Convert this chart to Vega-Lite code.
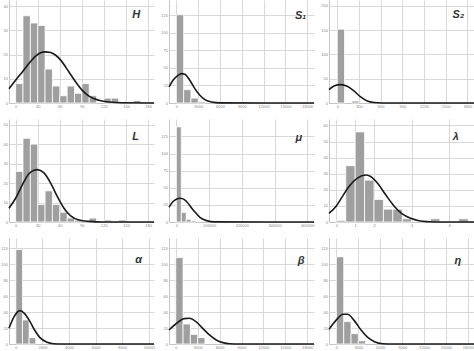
{
"$schema": "https://vega.github.io/schema/vega-lite/v6.json",
"padding": 0,
"background": "white",
"columns": 3,
"spacing": {"row": 16, "column": 15},
"bounds": "flush",
"config": {
 "view": {"stroke": null},
 "axis": {"tickCount": 20, "format": "d", "labelFontSize": 4, "labelColor": "#888", "gridColor": "#d8d8d8", "gridWidth": 1, "domainColor": "#c4c4c4", "domainWidth": 1, "ticks": false, "labelPadding": 1.5, "labelOverlap": false, "labelFlush": false, "labelFont": "Liberation Sans"},
 "axisX": {"minExtent": 7, "maxExtent": 7},
 "axisY": {"minExtent": 7, "maxExtent": 7},
 "rect": {"fill": "#9f9f9f", "stroke": "#ffffff", "strokeWidth": 0.8},
 "line": {"color": "#1a1a1a", "strokeWidth": 1.6, "interpolate": "monotone", "clip": true},
 "text": {"font": "Liberation Sans", "fontSize": 11, "fontStyle": "italic", "fontWeight": "bold", "color": "#333"}
},
"datasets": {
 "h_b": [{"x0":0,"x1":10,"n":8},{"x0":10,"x1":20,"n":36},{"x0":20,"x1":30,"n":33},{"x0":30,"x1":40,"n":32},{"x0":40,"x1":50,"n":14},{"x0":50,"x1":60,"n":7},{"x0":60,"x1":70,"n":3},{"x0":70,"x1":80,"n":7},{"x0":80,"x1":90,"n":4},{"x0":90,"x1":100,"n":8},{"x0":100,"x1":110,"n":3},{"x0":120,"x1":130,"n":2},{"x0":130,"x1":140,"n":2},{"x0":160,"x1":170,"n":1}],
 "h_c": [{"x":-9,"y":5.9},{"x":0,"y":9.4},{"x":9.1,"y":12.8},{"x":18.1,"y":16.3},{"x":27.2,"y":19.3},{"x":34,"y":20.7},{"x":39.9,"y":21.1},{"x":47.6,"y":20.8},{"x":54.4,"y":19.7},{"x":61.2,"y":17.7},{"x":72.5,"y":12.8},{"x":81.6,"y":8.7},{"x":90.6,"y":5.2},{"x":99.7,"y":2.8},{"x":113.3,"y":1.1},{"x":126.9,"y":0.4},{"x":145,"y":0.1},{"x":188,"y":0}],
 "s1_b": [{"x0":0,"x1":1000,"n":126},{"x0":1000,"x1":2000,"n":19},{"x0":2000,"x1":3000,"n":7},{"x0":3000,"x1":4000,"n":2}],
 "s1_c": [{"x":-1015,"y":22.9},{"x":-462,"y":32.4},{"x":231,"y":39.5},{"x":692,"y":41.9},{"x":1154,"y":41},{"x":1846,"y":32.4},{"x":2538,"y":20.5},{"x":3231,"y":11},{"x":3923,"y":4.8},{"x":4846,"y":1.4},{"x":6000,"y":0.2},{"x":18923,"y":0}],
 "s2_b": [{"x0":0,"x1":100,"n":152},{"x0":200,"x1":300,"n":4}],
 "s2_c": [{"x":-115,"y":27.6},{"x":-46,"y":35.2},{"x":46,"y":37.9},{"x":138,"y":34.5},{"x":231,"y":24.8},{"x":323,"y":12.4},{"x":415,"y":4.1},{"x":508,"y":1},{"x":623,"y":0},{"x":1892,"y":0}],
 "l_b": [{"x0":0,"x1":10,"n":26},{"x0":10,"x1":20,"n":43},{"x0":20,"x1":30,"n":40},{"x0":30,"x1":40,"n":9},{"x0":40,"x1":50,"n":16},{"x0":50,"x1":60,"n":9},{"x0":60,"x1":70,"n":5},{"x0":70,"x1":80,"n":2},{"x0":80,"x1":90,"n":1},{"x0":100,"x1":110,"n":2},{"x0":120,"x1":130,"n":1},{"x0":140,"x1":150,"n":1}],
 "l_c": [{"x":-9,"y":7.1},{"x":0,"y":12.2},{"x":9.1,"y":19.1},{"x":18.1,"y":24.8},{"x":24.9,"y":26.6},{"x":29.5,"y":26.9},{"x":38.5,"y":25.2},{"x":47.6,"y":20},{"x":56.6,"y":13.1},{"x":65.7,"y":7.1},{"x":74.8,"y":3.1},{"x":86.1,"y":1},{"x":99.7,"y":0.3},{"x":117.8,"y":0},{"x":188,"y":0}],
 "mu_b": [{"x0":0,"x1":15000,"n":139},{"x0":15000,"x1":30000,"n":14},{"x0":30000,"x1":45000,"n":4},{"x0":45000,"x1":60000,"n":2},{"x0":120000,"x1":135000,"n":2}],
 "mu_c": [{"x":-22600,"y":21.6},{"x":-10300,"y":29.9},{"x":0,"y":33.3},{"x":10300,"y":34.8},{"x":20500,"y":33.8},{"x":30800,"y":29.9},{"x":51300,"y":17.6},{"x":71800,"y":6.9},{"x":92300,"y":2},{"x":118000,"y":0.2},{"x":420500,"y":0}],
 "la_b": [{"x0":0,"x1":0.5,"n":1},{"x0":0.5,"x1":1,"n":35},{"x0":1,"x1":1.5,"n":56},{"x0":1.5,"x1":2,"n":26},{"x0":2,"x1":2.5,"n":14},{"x0":2.5,"x1":3,"n":8},{"x0":3,"x1":3.5,"n":8},{"x0":3.5,"x1":4,"n":2},{"x0":5,"x1":5.5,"n":2},{"x0":6.5,"x1":7,"n":2}],
 "la_c": [{"x":-0.39,"y":5.4},{"x":0,"y":10},{"x":0.32,"y":15.8},{"x":0.67,"y":22.1},{"x":1.12,"y":27.3},{"x":1.56,"y":29.2},{"x":1.82,"y":28.3},{"x":2.18,"y":24.2},{"x":2.62,"y":16.9},{"x":3.06,"y":10},{"x":3.5,"y":5},{"x":3.95,"y":2.3},{"x":4.39,"y":0.8},{"x":4.92,"y":0.2},{"x":5.45,"y":0},{"x":7.31,"y":0}],
 "a_b": [{"x0":0,"x1":500,"n":118},{"x0":500,"x1":1000,"n":30},{"x0":1000,"x1":1500,"n":8}],
 "a_c": [{"x":-513,"y":19.6},{"x":-128,"y":34.2},{"x":308,"y":41.7},{"x":641,"y":38.3},{"x":1026,"y":29.2},{"x":1410,"y":17.5},{"x":1795,"y":8.3},{"x":2308,"y":2.5},{"x":2821,"y":0.4},{"x":3590,"y":0},{"x":10385,"y":0}],
 "b_b": [{"x0":0,"x1":1000,"n":108},{"x0":1000,"x1":2000,"n":25},{"x0":2000,"x1":3000,"n":12},{"x0":3000,"x1":4000,"n":8}],
 "b_c": [{"x":-923,"y":17.5},{"x":0,"y":25},{"x":1154,"y":31.7},{"x":1846,"y":32.1},{"x":2769,"y":27.9},{"x":3692,"y":19.6},{"x":4615,"y":11.3},{"x":5538,"y":5},{"x":6462,"y":1.7},{"x":7385,"y":0.4},{"x":8769,"y":0},{"x":18923,"y":0}],
 "e_b": [{"x0":0,"x1":1000,"n":109},{"x0":1000,"x1":2000,"n":28},{"x0":2000,"x1":3000,"n":13},{"x0":3000,"x1":4000,"n":4}],
 "e_c": [{"x":-1015,"y":18.3},{"x":-92,"y":29.2},{"x":923,"y":37.1},{"x":1523,"y":37.1},{"x":2446,"y":29.2},{"x":3369,"y":17.5},{"x":4292,"y":8.3},{"x":5215,"y":2.9},{"x":6369,"y":0.4},{"x":7754,"y":0},{"x":18830,"y":0}]
},
"concat": [
  {"width": 145, "height": 103, "layer": [
   {"data": {"name": "h_b"}, "mark": "rect", "encoding": {
     "x": {"field": "x0", "type": "quantitative", "title": null, "scale": {"domain": [-9, 188], "nice": false, "zero": false}, "axis": {"values": [0,30,60,90,120,150,180], "tickCount": 20}},
     "x2": {"field": "x1"},
     "y": {"field": "n", "type": "quantitative", "title": null, "scale": {"domain": [0, 42.5], "nice": false}, "axis": {"values": [0,10,20,30,40], "tickCount": 20}},
     "y2": {"datum": 0}}},
   {"data": {"name": "h_c"}, "mark": "line", "encoding": {"x": {"field": "x", "type": "quantitative"}, "y": {"field": "y", "type": "quantitative"}}},
   {"data": {"values": [{"label": "H"}]}, "mark": "text", "encoding": {"x": {"datum": 164}, "y": {"datum": 36.3}, "text": {"field": "label"}}}
  ]},
  {"width": 145, "height": 103, "layer": [
   {"data": {"name": "s1_b"}, "mark": "rect", "encoding": {
     "x": {"field": "x0", "type": "quantitative", "title": null, "scale": {"domain": [-1015, 18923], "nice": false, "zero": false}, "axis": {"values": [0,3000,6000,9000,12000,15000,18000], "tickCount": 20}},
     "x2": {"field": "x1"},
     "y": {"field": "n", "type": "quantitative", "title": null, "scale": {"domain": [0, 147], "nice": false}, "axis": {"values": [0,25,50,75,100,125], "tickCount": 20}},
     "y2": {"datum": 0}}},
   {"data": {"name": "s1_c"}, "mark": "line", "encoding": {"x": {"field": "x", "type": "quantitative"}, "y": {"field": "y", "type": "quantitative"}}},
   {"data": {"values": [{"label": "S₁"}]}, "mark": "text", "encoding": {"x": {"datum": 17077}, "y": {"datum": 123.8}, "text": {"field": "label"}}}
  ]},
  {"width": 145, "height": 103, "layer": [
   {"data": {"name": "s2_b"}, "mark": "rect", "encoding": {
     "x": {"field": "x0", "type": "quantitative", "title": null, "scale": {"domain": [-115, 1892], "nice": false, "zero": false}, "axis": {"values": [0,300,600,900,1200,1500,1800], "tickCount": 20}},
     "x2": {"field": "x1"},
     "y": {"field": "n", "type": "quantitative", "title": null, "scale": {"domain": [0, 212], "nice": false}, "axis": {"values": [0,50,100,150,200], "tickCount": 20}},
     "y2": {"datum": 0}}},
   {"data": {"name": "s2_c"}, "mark": "line", "encoding": {"x": {"field": "x", "type": "quantitative"}, "y": {"field": "y", "type": "quantitative"}}},
   {"data": {"values": [{"label": "S₂"}]}, "mark": "text", "encoding": {"x": {"datum": 1675}, "y": {"datum": 181}, "text": {"field": "label"}}}
  ]},
  {"width": 145, "height": 103, "layer": [
   {"data": {"name": "l_b"}, "mark": "rect", "encoding": {
     "x": {"field": "x0", "type": "quantitative", "title": null, "scale": {"domain": [-9, 188], "nice": false, "zero": false}, "axis": {"values": [0,30,60,90,120,150,180], "tickCount": 20}},
     "x2": {"field": "x1"},
     "y": {"field": "n", "type": "quantitative", "title": null, "scale": {"domain": [0, 52.9], "nice": false}, "axis": {"values": [0,10,20,30,40,50], "tickCount": 20}},
     "y2": {"datum": 0}}},
   {"data": {"name": "l_c"}, "mark": "line", "encoding": {"x": {"field": "x", "type": "quantitative"}, "y": {"field": "y", "type": "quantitative"}}},
   {"data": {"values": [{"label": "L"}]}, "mark": "text", "encoding": {"x": {"datum": 163}, "y": {"datum": 43.8}, "text": {"field": "label"}}}
  ]},
  {"width": 145, "height": 103, "layer": [
   {"data": {"name": "mu_b"}, "mark": "rect", "encoding": {
     "x": {"field": "x0", "type": "quantitative", "title": null, "scale": {"domain": [-22600, 420500], "nice": false, "zero": false}, "axis": {"values": [0,100000,200000,300000,400000], "tickCount": 20}},
     "x2": {"field": "x1"},
     "y": {"field": "n", "type": "quantitative", "title": null, "scale": {"domain": [0, 150.5], "nice": false}, "axis": {"values": [0,25,50,75,100,125], "tickCount": 20}},
     "y2": {"datum": 0}}},
   {"data": {"name": "mu_c"}, "mark": "line", "encoding": {"x": {"field": "x", "type": "quantitative"}, "y": {"field": "y", "type": "quantitative"}}},
   {"data": {"values": [{"label": "μ"}]}, "mark": "text", "encoding": {"x": {"datum": 374000}, "y": {"datum": 123}, "text": {"field": "label"}}}
  ]},
  {"width": 145, "height": 103, "layer": [
   {"data": {"name": "la_b"}, "mark": "rect", "encoding": {
     "x": {"field": "x0", "type": "quantitative", "title": null, "scale": {"domain": [-0.39, 7.31], "nice": false, "zero": false}, "axis": {"values": [0,1,2,4,6], "tickCount": 20, "format": "d"}},
     "x2": {"field": "x1"},
     "y": {"field": "n", "type": "quantitative", "title": null, "scale": {"domain": [0, 64], "nice": false}, "axis": {"values": [0,10,20,30,40,50,60], "tickCount": 20}},
     "y2": {"datum": 0}}},
   {"mark": {"type": "rule", "color": "#555", "strokeWidth": 1.4, "strokeDash": [1.5, 1.5]}, "encoding": {"x": {"datum": 1}}},
   {"data": {"name": "la_c"}, "mark": "line", "encoding": {"x": {"field": "x", "type": "quantitative"}, "y": {"field": "y", "type": "quantitative"}}},
   {"data": {"values": [{"label": "λ"}]}, "mark": "text", "encoding": {"x": {"datum": 6.34}, "y": {"datum": 52.9}, "text": {"field": "label"}}}
  ]},
  {"width": 145, "height": 106, "layer": [
   {"data": {"name": "a_b"}, "mark": "rect", "encoding": {
     "x": {"field": "x0", "type": "quantitative", "title": null, "scale": {"domain": [-513, 10385], "nice": false, "zero": false}, "axis": {"values": [0,2000,4000,6000,8000,10000], "tickCount": 20}},
     "x2": {"field": "x1"},
     "y": {"field": "n", "type": "quantitative", "title": null, "scale": {"domain": [0, 132.5], "nice": false}, "axis": {"values": [0,20,40,60,80,100,120], "tickCount": 20}},
     "y2": {"datum": 0}}},
   {"data": {"name": "a_c"}, "mark": "line", "encoding": {"x": {"field": "x", "type": "quantitative"}, "y": {"field": "y", "type": "quantitative"}}},
   {"data": {"values": [{"label": "α"}]}, "mark": "text", "encoding": {"x": {"datum": 9230}, "y": {"datum": 105}, "text": {"field": "label"}}}
  ]},
  {"width": 145, "height": 106, "layer": [
   {"data": {"name": "b_b"}, "mark": "rect", "encoding": {
     "x": {"field": "x0", "type": "quantitative", "title": null, "scale": {"domain": [-923, 18923], "nice": false, "zero": false}, "axis": {"values": [0,3000,6000,9000,12000,15000,18000], "tickCount": 20}},
     "x2": {"field": "x1"},
     "y": {"field": "n", "type": "quantitative", "title": null, "scale": {"domain": [0, 132.5], "nice": false}, "axis": {"values": [0,20,40,60,80,100,120], "tickCount": 20}},
     "y2": {"datum": 0}}},
   {"data": {"name": "b_c"}, "mark": "line", "encoding": {"x": {"field": "x", "type": "quantitative"}, "y": {"field": "y", "type": "quantitative"}}},
   {"data": {"values": [{"label": "β"}]}, "mark": "text", "encoding": {"x": {"datum": 17169}, "y": {"datum": 104}, "text": {"field": "label"}}}
  ]},
  {"width": 145, "height": 106, "layer": [
   {"data": {"name": "e_b"}, "mark": "rect", "encoding": {
     "x": {"field": "x0", "type": "quantitative", "title": null, "scale": {"domain": [-1015, 18830], "nice": false, "zero": false}, "axis": {"values": [0,3000,6000,9000,12000,15000,18000], "tickCount": 20}},
     "x2": {"field": "x1"},
     "y": {"field": "n", "type": "quantitative", "title": null, "scale": {"domain": [0, 132.5], "nice": false}, "axis": {"values": [0,20,40,60,80,100,120], "tickCount": 20}},
     "y2": {"datum": 0}}},
   {"data": {"name": "e_c"}, "mark": "line", "encoding": {"x": {"field": "x", "type": "quantitative"}, "y": {"field": "y", "type": "quantitative"}}},
   {"data": {"values": [{"label": "η"}]}, "mark": "text", "encoding": {"x": {"datum": 16615}, "y": {"datum": 104}, "text": {"field": "label"}}}
  ]}
]
}
